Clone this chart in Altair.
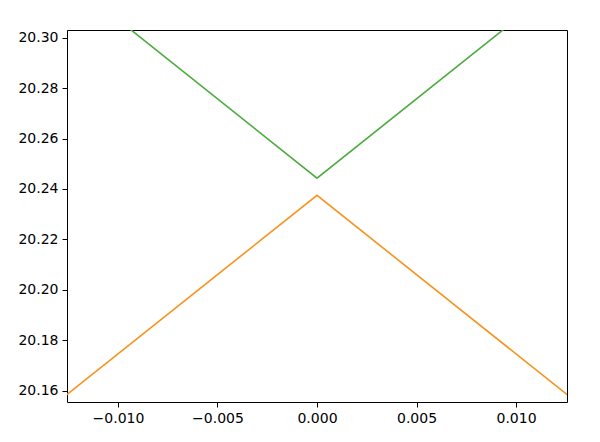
import altair as alt
import pandas as pd

# values
x_vals = [-0.0126, 0.0, 0.0126]
green_y = [20.3235, 20.2443, 20.3235]
orange_y = [20.1583, 20.2375, 20.1583]

x_ticks = [-0.010, -0.005, 0.0, 0.005, 0.010]
y_ticks = [20.16, 20.18, 20.20, 20.22, 20.24, 20.26, 20.28, 20.30]

df = pd.DataFrame({
    'x': x_vals * 2,
    'y': green_y + orange_y,
    'series': ['green'] * 3 + ['orange'] * 3,
})

chart = alt.Chart(df).mark_line(clip=True, strokeWidth=1.6).encode(
    x=alt.X('x:Q', title=None,
            scale=alt.Scale(domain=[-0.01256, 0.01256], nice=False, zero=False),
            axis=alt.Axis(values=x_ticks, format='.3f')),
    y=alt.Y('y:Q', title=None,
            scale=alt.Scale(domain=[20.1556, 20.303], nice=False, zero=False),
            axis=alt.Axis(values=y_ticks, format='.2f')),
    color=alt.Color('series:N', legend=None,
                    scale=alt.Scale(domain=['green', 'orange'], range=['#4dab3f', '#f7931e'])),
).properties(
    width=500,
    height=372,
    autosize=alt.AutoSizeParams(type='none'),
    padding={'left': 59, 'top': 22, 'right': 25, 'bottom': 32},
).configure_view(
    stroke='black',
    strokeWidth=1,
).configure_axis(
    grid=False,
    domain=False,
    ticks=True,
    tickColor='black',
    tickSize=5,
    tickWidth=1,
    labelFont='DejaVu Sans',
    labelFontSize=14,
    labelColor='black',
    labelPadding=4,
)

chart.save("out.html", embed_options={"renderer": "svg", "actions": False})
